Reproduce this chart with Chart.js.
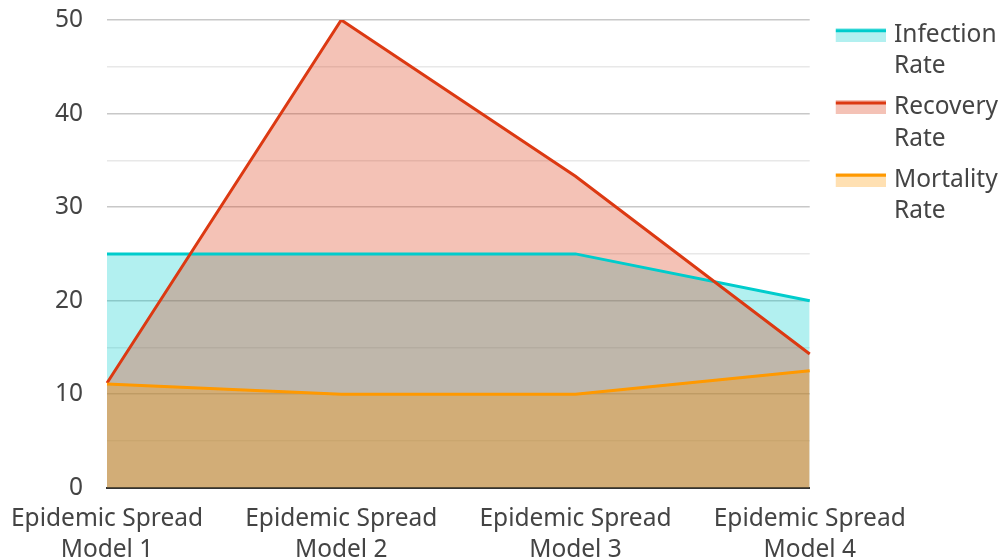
<!DOCTYPE html>
<html lang="en">
<head>
    <meta charset="UTF-8">
    <script src="https://cdn.jsdelivr.net/npm/chart.js"></script>
    <title>epidemic models</title>
    <style>
        body {
    margin: 0;
    background: #fff;
}

.wrap {
    width: 1001px;
    height: 560px;
    position: relative;
}
    </style>
</head>
<body>
    <div class="wrap">
        <canvas id="epiChart"></canvas>
    </div>

    <script>
        const categories = ['Epidemic Spread Model 1', 'Epidemic Spread Model 2', 'Epidemic Spread Model 3', 'Epidemic Spread Model 4'];
        const infectionRate = [25, 25, 25, 20];
        const recoveryRate = [11.2, 50, 33.3, 14.3];
        const mortalityRate = [11.1, 10, 10, 12.5];
        const yTicks = [0, 10, 20, 30, 40, 50];

        Chart.defaults.font.family = "'Noto Sans', sans-serif";
        Chart.defaults.font.size = 24.5;
        Chart.defaults.font.lineHeight = 1.27;
        Chart.defaults.color = '#444';

        // legend swatch: thick line on top, light fill below
        // (transparent strip on the left pushes it away from the plot)
        function swatch(line, fill) {
            const c = document.createElement('canvas');
            c.width = 70;
            c.height = 14;
            const g = c.getContext('2d');
            g.fillStyle = fill;
            g.fillRect(20, 0, 50, 14);
            g.fillStyle = line;
            g.fillRect(20, 1, 50, 3);
            return c;
        }

        const series = [
            { label: 'Infection Rate', data: infectionRate, line: '#00cccc', fill: 'rgba(0, 204, 204, 0.3)' },
            { label: 'Recovery Rate', data: recoveryRate, line: '#dc3912', fill: 'rgba(220, 57, 18, 0.31)' },
            { label: 'Mortality Rate', data: mortalityRate, line: '#ff9900', fill: 'rgba(255, 153, 0, 0.3)' }
        ];

        const ctx = document.getElementById('epiChart').getContext('2d');
        const chart = new Chart(ctx, {
            type: 'line',
            data: {
                labels: categories,
                datasets: series.map((s, i) => ({
                    label: s.label,
                    data: s.data,
                    order: series.length - i,   // first series at the bottom
                    borderColor: s.line,
                    backgroundColor: s.fill,
                    borderWidth: 3,
                    fill: 'origin',
                    tension: 0,
                    pointRadius: 0,
                    pointStyle: swatch(s.line, s.fill)
                }))
            },
            options: {
                responsive: true,
                maintainAspectRatio: false,
                animation: false,
                layout: {
                    padding: { top: 13, right: -7, bottom: -13, left: 17 }
                },
                plugins: {
                    filler: { drawTime: 'beforeDatasetsDraw' },
                    tooltip: { enabled: false },
                    legend: {
                        position: 'right',
                        align: 'start',
                        labels: {
                            usePointStyle: true,
                            pointStyleWidth: 62,
                            padding: 10,
                            generateLabels: function (chart) {
                                const items = Chart.defaults.plugins.legend.labels.generateLabels(chart);
                                items.sort((a, b) => a.datasetIndex - b.datasetIndex);
                                items.forEach(it => { it.text = it.text.split(' '); });
                                return items;
                            }
                        }
                    }
                },
                scales: {
                    x: {
                        offset: false,
                        grid: { display: false },
                        border: { display: true, color: '#333', width: 2 },
                        ticks: {
                            maxRotation: 0,
                            autoSkip: false,
                            padding: 7.5,
                            callback: function (value) {
                                const name = this.getLabelForValue(value);
                                const i = name.indexOf(' Model');
                                return [name.slice(0, i), name.slice(i + 1)];
                            }
                        },
                        afterFit: s => {
                            s.paddingLeft = 107;
                        }
                    },
                    y: {
                        min: yTicks[0],
                        max: yTicks[yTicks.length - 1],
                        border: { display: false },
                        grid: {
                            drawTicks: false,
                            lineWidth: 1.5,
                            color: c => yTicks.includes(c.tick.value) ? '#c8c8c8' : '#e8e8e8'
                        },
                        ticks: {
                            stepSize: 5,
                            padding: 24,
                            callback: v => yTicks.includes(v) ? v : ''
                        },
                        afterFit: s => {
                            s.paddingTop = 20;
                            s.paddingBottom = 16;
                        }
                    }
                }
            }
        });
    </script>
</body>
</html>
